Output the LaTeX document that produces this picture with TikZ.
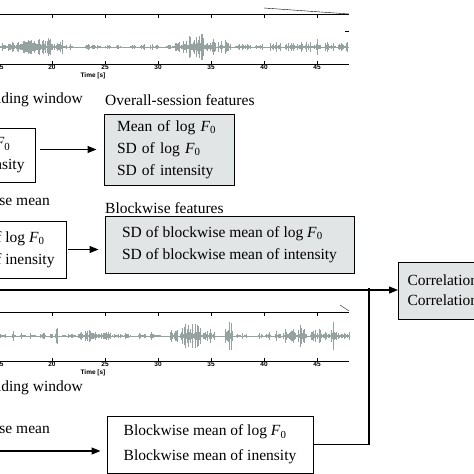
\documentclass[tikz,border=0pt]{standalone}
\usepackage{fontspec}
\setmainfont{Liberation Serif}
\setsansfont{Liberation Sans}
\usepackage{tikz}
\usetikzlibrary{arrows.meta}
\definecolor{wavegray}{RGB}{150,162,160}
\definecolor{boxgray}{RGB}{226,229,229}
\newcommand{\Fz}{\textit{F}\textsubscript{0}}

\begin{document}
\begin{tikzpicture}[x=1pt,y=-1pt,every text node part/.style={align=left},
  font=\fontsize{15.5}{22}\selectfont,
  wbox/.style={draw,line width=1pt,inner ysep=0pt,minimum height=57pt},
  gbox/.style={wbox,fill=boxgray},
  lbl/.style={inner sep=0pt},
  ticklbl/.style={inner sep=0pt,anchor=north,font=\sffamily\bfseries\fontsize{6.5}{7}\selectfont},
  flow/.style={line width=1.2pt,-{Triangle[length=9pt,width=7pt]}}]
  \useasboundingbox (0,0) rectangle (474,474);
  \clip (0,0) rectangle (474,474);

  % upper waveform
  \draw[line width=0.8pt] (0,14) -- (349,14);
  \draw[line width=0.8pt] (0,64) -- (349,64);
  \draw (264,8) -- (349,14);
  \draw (345,31) -- (349,31);
  \node[ticklbl] (ta15) at (0,65) {15};
  \foreach \x/\t in {52/20,105/25,158/30,211/35,264/40,317/45}{
    \draw (\x,14) -- (\x,18);
    \draw (\x,64) -- (\x,61);
    \node[ticklbl] (ta\t) at (\x,65) {\t};
  }
  \node[ticklbl] (timea) at (93,73) {Time [s]};
  \draw[wavegray,line width=0.4pt] (0,47) -- (349,47);
  \pgfmathsetseed{3}
  \foreach \a/\b/\h in {0/10/4,10/28/6,28/35/11,35/50/9,50/60/6,60/66/7,68/72/3,
    85/100/3,105/110/3,115/120/2,130/135/3,140/145/3,150/158/3,165/170/3,
    172/185/6,186/205/15,205/215/10,218/230/8,235/250/3,255/262/3,270/280/5,
    285/300/4,300/315/6,316/320/9,325/335/5,338/347/8}{
    \foreach \x in {\a,...,\b}{
      \pgfmathsetmacro{\r}{\h*(0.15+0.85*rnd^2)}
      \draw[wavegray,line width=0.6pt] (\x,47-\r) -- (\x,47+\r);
    }
  }

  % lower waveform
  \draw[line width=0.8pt] (0,312) -- (349,312);
  \draw[line width=0.8pt] (0,361) -- (349,361);
  \draw (340,305) -- (349,311);
  \node[ticklbl] (tb15) at (0,362) {15};
  \foreach \x/\t in {52/20,105/25,158/30,211/35,264/40,317/45}{
    \draw (\x,312) -- (\x,316);
    \draw (\x,361) -- (\x,358);
    \node[ticklbl] (tb\t) at (\x,362) {\t};
  }
  \node[ticklbl] (timeb) at (93,370) {Time [s]};
  \draw[wavegray,line width=0.4pt] (0,336) -- (349,336);
  \foreach \a/\b/\h in {0/5/3,12/15/5,20/25/4,30/35/4,40/45/5,50/52/4,55/57/11,
    62/75/3,78/85/4,85/100/8,100/110/5,112/118/3,120/130/3,138/145/4,150/160/4,
    170/177/9,180/200/13,200/210/7,210/214/9,225/232/15,236/242/3,244/246/5,
    258/262/3,265/270/5,275/280/5,283/300/8,300/306/13,310/320/7,320/332/9,
    333/334/15,335/349/6}{
    \foreach \x in {\a,...,\b}{
      \pgfmathsetmacro{\r}{\h*(0.15+0.85*rnd^2)}
      \draw[wavegray,line width=0.6pt] (\x,336-\r) -- (\x,336+\r);
    }
  }

  % labels
  \node[lbl,anchor=east] (slide1) at (83,100) {Sliding window};
  \node[lbl,anchor=west] (sesslbl) at (105,100) {Overall-session features};
  \node[lbl,anchor=east] (bmean1) at (50,200) {Blockwise mean};
  \node[lbl,anchor=west] (blklbl) at (105,208) {Blockwise features};
  \node[lbl,anchor=east] (slide2) at (83,388) {Sliding window};
  \node[lbl,anchor=east] (bmean2) at (50,428) {Blockwise mean};

  % boxes
  \node[wbox,inner xsep=11pt,minimum height=54pt,anchor=east] (win1) at (36,155)
    {Mean of log \Fz\\Mean of intensity};
  \node[gbox,text width=104pt,minimum width=130pt,minimum height=71pt] (sess) at (169,149.5)
    {Mean of log \Fz\\SD of log \Fz\\SD of intensity};
  \node[wbox,inner xsep=12pt,anchor=east] (win2) at (67,249.5)
    {Mean of log \Fz\\Mean of inensity};
  \node[gbox,minimum width=249pt] (blk) at (229.5,244.5)
    {SD of blockwise mean of log \Fz\\SD of blockwise mean of intensity};
  \node[gbox,inner xsep=9pt,anchor=west,font=\fontsize{15.5}{20}\selectfont] (corr) at (398,290.5)
    {Correlation\\Correlation};
  \node[wbox,minimum width=206pt,font=\fontsize{15.5}{25}\selectfont] (bwm) at (210,444.5)
    {Blockwise mean of log \Fz\\Blockwise mean of inensity};

  % connectors
  \coordinate (in1) at (0,290);
  \coordinate (in2) at (0,451);
  \coordinate (join) at (369,288);
  \draw[flow,shorten <=4pt,shorten >=7pt] (win1.east |- sess.west) -- (sess.west);
  \draw[flow,shorten <=1pt,shorten >=6pt] (win2.east) -- (win2.east -| blk.west);
  \draw[flow] (in1) -- (in1 -| corr.west);
  \draw[line width=1.2pt] (bwm.east) -| (join);
  \draw[flow,shorten >=6pt] (in2) -- (in2 -| bwm.west);
\end{tikzpicture}
\end{document}
